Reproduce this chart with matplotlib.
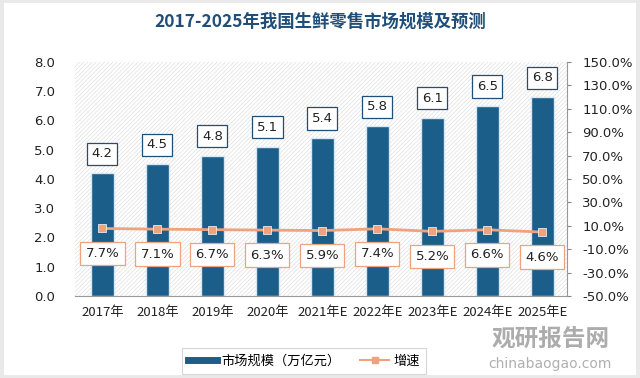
import matplotlib
matplotlib.use("Agg")
import matplotlib.pyplot as plt
from matplotlib.patches import Rectangle
from matplotlib.lines import Line2D
import numpy as np

plt.rcParams['font.family'] = ['Noto Sans CJK SC', 'DejaVu Sans']
plt.rcParams['hatch.color'] = '#dcdcdc'
plt.rcParams['hatch.linewidth'] = 0.5

categories = ['2017年', '2018年', '2019年', '2020年', '2021年E', '2022年E', '2023年E', '2024年E', '2025年E']
market_size = [4.2, 4.5, 4.8, 5.1, 5.4, 5.8, 6.1, 6.5, 6.8]
growth = [7.7, 7.1, 6.7, 6.3, 5.9, 7.4, 5.2, 6.6, 4.6]
left_ticks = [0, 1, 2, 3, 4, 5, 6, 7, 8]
right_ticks = [-50, -30, -10, 10, 30, 50, 70, 90, 110, 130, 150]

bar_color = '#1B5E8A'
line_color = '#EFA27E'
title_color = '#1F4E79'

fig = plt.figure(figsize=(6.4, 3.78), dpi=100)
fig.patch.set_facecolor('#e9e9e9')
card = Rectangle((0.006, 0.008), 0.988, 0.984, transform=fig.transFigure,
                 facecolor='white', edgecolor='none', zorder=-10)
fig.patches.append(card)

ax = fig.add_axes([0.117, 0.217, 0.769, 0.619])
ax.set_facecolor('white')
ax.patch.set_hatch('////////')
ax.patch.set_edgecolor('#e0e0e0')
ax.patch.set_linewidth(0)

x = np.arange(len(categories))
ax.bar(x, market_size, width=0.41, color=bar_color, edgecolor='#d6e6f2',
       linewidth=1.0, zorder=2)
ax.set_ylim(0, 8)
ax.set_xlim(-0.5, 8.45)
ax.set_yticks(left_ticks)
ax.set_yticklabels([f'{v:.1f}' for v in left_ticks], fontsize=9.5, color='#222222',
                   family='DejaVu Sans')
ax.tick_params(axis='y', length=0, pad=14)
ax.set_xticks(x)
ax.set_xticklabels(categories, fontsize=9.5, color='#222222')
ax.tick_params(axis='x', length=0, pad=7)
for s in ['left', 'top', 'right']:
    ax.spines[s].set_visible(False)
ax.spines['bottom'].set_color('#999999')

for xi, v in zip(x, market_size):
    ax.annotate(f'{v:.1f}', (xi, v), xytext=(0, 14), textcoords='offset points',
                ha='center', va='center', fontsize=9.5, color='#222222', family='DejaVu Sans',
                bbox=dict(boxstyle='square,pad=0.35', fc='white', ec=title_color, lw=0.9),
                zorder=5)

ax2 = ax.twinx()
ax2.set_ylim(-50, 150)
ax2.set_yticks(right_ticks)
ax2.set_yticklabels([f'{v:.1f}%' for v in right_ticks], fontsize=9.5, color='#222222',
                    family='DejaVu Sans')
ax2.tick_params(axis='y', length=3, color='#888888', pad=8)
for s in ['left', 'top', 'bottom']:
    ax2.spines[s].set_visible(False)
ax2.spines['right'].set_color('#999999')
ax2.plot(x, growth, color=line_color, lw=2, marker='s', markersize=6,
         markerfacecolor=line_color, markeredgecolor='white', markeredgewidth=0.5, zorder=3)
for xi, g in zip(x, growth):
    ax2.annotate(f'{g:.1f}%', (xi, g), xytext=(0, -18), textcoords='offset points',
                 ha='center', va='center', fontsize=9.5, color='#222222', family='DejaVu Sans',
                 bbox=dict(boxstyle='square,pad=0.4', fc='white', ec=line_color, lw=0.9),
                 zorder=5)

fig.text(0.5, 0.942, '2017-2025年我国生鲜零售市场规模及预测', ha='center', va='center',
         fontsize=12.5, fontweight='bold', color=title_color)

handles = [Line2D([0], [0], color=bar_color, lw=5),
           Line2D([0], [0], color=line_color, lw=1.5, marker='s', markersize=5)]
leg = fig.legend(handles, ['市场规模（万亿元）', '增速'], loc='center',
                 bbox_to_anchor=(0.475, 0.045), ncol=2, fontsize=9.5, frameon=True,
                 fancybox=False, edgecolor='#cccccc', handlelength=2.2, columnspacing=1.5,
                 handletextpad=0.3, borderpad=0.5)
leg.get_frame().set_linewidth(0.8)

fig.text(0.86, 0.105, '观研报告网', ha='center', va='center', fontsize=17,
         fontweight='bold', color='#acacac')
fig.text(0.86, 0.038, 'chinabaogao.com', ha='center', va='center', fontsize=10,
         color='#b0b0b0', family='DejaVu Sans')

fig.savefig('out.png', dpi=100, facecolor=fig.get_facecolor())
